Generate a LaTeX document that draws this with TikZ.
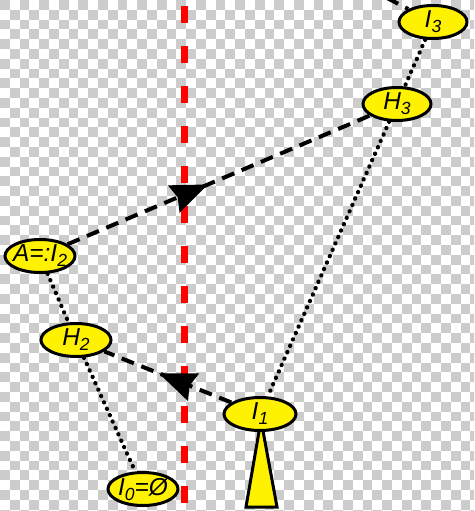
\documentclass[tikz,border=0pt]{standalone}
\usepackage{fontspec}
\setmainfont{Liberation Sans}
\usetikzlibrary{arrows.meta,decorations.markings,calc,shapes.geometric}
\newcommand\subx[1]{\raisebox{-5pt}{\fontsize{17.5}{17.5}\selectfont #1}}
\begin{document}
\begin{tikzpicture}[x=1pt,y=-1pt,
  blob/.style={ellipse, draw=black, line width=3pt, fill=yellow, minimum width=68pt, minimum height=33pt, inner sep=0pt, font=\fontsize{24.5}{24.5}\selectfont\itshape},
  dashline/.style={line width=4pt, dash pattern=on 13pt off 8pt},
  dotline/.style={line width=4.2pt, line cap=round, dash pattern=on 0.3pt off 6.7pt},
  midarrow/.style={postaction={decorate}, decoration={markings, mark=at position #1 with {\arrow{Stealth[length=37pt,width=29pt,inset=4pt]}}}},
  redline/.style={draw=red, line width=7.5pt, dash pattern=on 17pt off 23pt, dash phase=34pt},
  cone/.style={draw=black, line width=3pt, fill=yellow, line join=miter}]
\useasboundingbox (0,0) rectangle (474,511);
\clip (0,0) rectangle (474,511);
% checkerboard background
\fill[white] (0,0) rectangle (474,511);
\foreach \i in {0,...,48}{
  \foreach \j in {0,...,52}{
    \pgfmathtruncatemacro\chkpar{mod(\i+\j,2)}
    \ifnum\chkpar=0
      \fill[black!20] (\i*9.8,\j*9.8) rectangle ++(9.8,9.8);
    \fi
  }
}
% red divider
\coordinate (rtop) at (184.5,0);
\coordinate (rbot) at (184.5,511);
\draw[redline] (rtop) -- (rbot);
% cone under I1
\coordinate (c1) at (261,420);
\coordinate (c2) at (246,507);
\coordinate (c3) at (277,507);
\draw[cone] (c1) -- (c2) -- (c3) -- cycle;
% nodes
\node[blob] (I3) at (433,22) {I\subx{3}};
\node[blob] (H3) at (397,104) {H\subx{3}};
\node[blob, minimum width=70pt, inner xsep=-5pt] (A) at (40,256) {A=:I\subx{2}};
\node[blob, minimum width=70pt] (H2) at (76,340) {H\subx{2}};
\node[blob, minimum width=72pt] (I1) at (260,414) {I\subx{1}};
\node[blob, minimum width=70pt, inner xsep=-5pt] (I0) at (143,489) {I\subx{0}=Ø};
\coordinate (off) at (368,-12);
% connectors
\draw[dashline] (off) -- (I3);
\draw[dashline, midarrow=0.465] (A) -- (H3);
\draw[dashline, midarrow=0.57] (I1) -- (H2);
\draw[dotline] (I3) -- (H3);
\draw[dotline] (H3) -- (I1);
\draw[dotline] (A) -- (H2);
\draw[dotline] (H2) -- (I0);
\end{tikzpicture}
\end{document}
